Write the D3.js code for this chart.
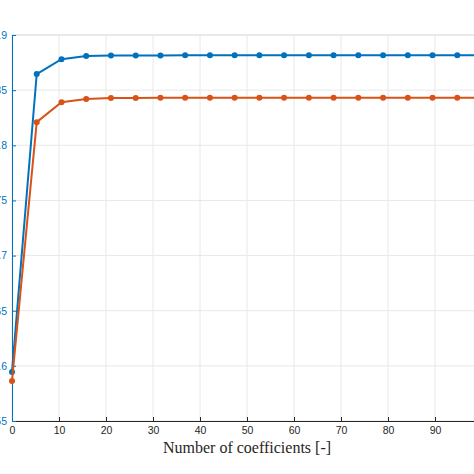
<!DOCTYPE html><html><head><script src="https://cdn.jsdelivr.net/npm/d3@7"></script>
<style>body{margin:0;background:#fff}</style></head><body><svg id="c" width="474" height="474"></svg>
<script>
const xs=[0,5.26,10.53,15.79,21.05,26.32,31.58,36.84,42.11,47.37,52.63,57.89,63.16,68.42,73.68,78.95,84.21,89.47,94.74,100];
const blue=[1.5945,1.8646,1.878,1.881,1.8815,1.8815,1.8815,1.8816,1.8816,1.8816,1.8816,1.8816,1.8816,1.8816,1.8816,1.8816,1.8816,1.8816,1.8816,1.8816];
const orange=[1.5863,1.821,1.839,1.842,1.8428,1.8428,1.843,1.843,1.843,1.843,1.843,1.843,1.843,1.843,1.843,1.843,1.843,1.843,1.843,1.843];
const yTicks=[1.55,1.6,1.65,1.7,1.75,1.8,1.85,1.9];
const xTicks=[0,10,20,30,40,50,60,70,80,90];
const svg=d3.select("#c");
const x=d3.scaleLinear().domain([0,100]).range([12,482]);
const y=d3.scaleLinear().domain([1.55,1.9]).range([421,35]);
const g=svg.append("g");
g.selectAll(".gx").data(xTicks).join("line").attr("x1",d=>x(d)).attr("x2",d=>x(d)).attr("y1",35).attr("y2",421).attr("stroke","#e8e8e8");
g.selectAll(".gy").data(yTicks).join("line").attr("x1",12).attr("x2",482).attr("y1",d=>y(d)).attr("y2",d=>y(d)).attr("stroke","#e8e8e8");
g.append("line").attr("x1",12).attr("x2",482).attr("y1",35).attr("y2",35).attr("stroke","#e0e0e0").attr("stroke-width",1);
const xa=svg.append("g").attr("transform","translate(0,421)").call(d3.axisBottom(x).tickValues(xTicks).tickSize(-4).tickPadding(6).tickSizeOuter(0));
xa.select(".domain").attr("stroke","#262626");xa.selectAll("line").attr("stroke","#262626");
xa.selectAll("text").attr("fill","#262626").style("font-family","Liberation Sans, Arial").style("font-size","10.5px");
const ya=svg.append("g").attr("transform","translate(12,0)").call(d3.axisLeft(y).tickValues(yTicks).tickFormat(d3.format(".2~f")).tickSize(-4).tickPadding(5).tickSizeOuter(0));
ya.select(".domain").attr("stroke","#0072BD");ya.selectAll("line").attr("stroke","#0072BD");
ya.selectAll("text").attr("fill","#0072BD").style("font-family","Liberation Sans, Arial").style("font-size","10.5px");
const line=d3.line().x((d,i)=>x(xs[i])).y(d=>y(d));
[[blue,"#0072BD"],[orange,"#D95319"]].forEach(([s,c])=>{
 svg.append("path").datum(s).attr("d",line).attr("fill","none").attr("stroke",c).attr("stroke-width",2);
 svg.selectAll(null).data(s).join("circle").attr("cx",(d,i)=>x(xs[i])).attr("cy",d=>y(d)).attr("r",3).attr("fill",c);
});
svg.append("text").attr("x",247).attr("y",453).attr("text-anchor","middle").style("font-family","Liberation Serif, Times New Roman").style("font-size","16px").attr("fill","#262626").text("Number of coefficients [-]");
</script></body></html>
